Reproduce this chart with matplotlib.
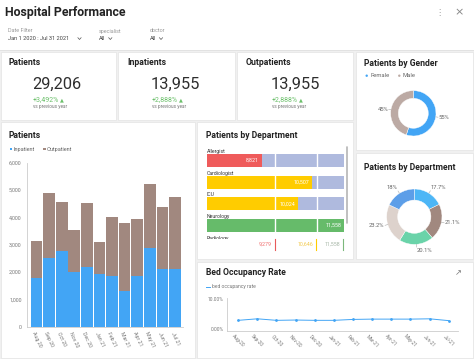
import matplotlib
matplotlib.use('Agg')
import matplotlib.pyplot as plt
from matplotlib.patches import Rectangle, Circle
import numpy as np

plt.rcParams['font.family'] = ['Roboto', 'DejaVu Sans']

# ---------------- data ----------------
kpi_titles = ['Patients', 'Inpatients', 'Outpatients']
kpi_values = [29206, 13955, 13955]
kpi_change = [3492, 2888, 2888]

months = ['Aug 20', 'Sep 20', 'Oct 20', 'Nov 20', 'Dec 20', 'Jan 21',
          'Feb 21', 'Mar 21', 'Apr 21', 'May 21', 'Jun 21', 'Jul 21']
inpatient = [1800, 2510, 2760, 2000, 2180, 1930, 1870, 1300, 1850, 2890, 2110, 2120]
outpatient = [1350, 2390, 1800, 1540, 2330, 1160, 2150, 2480, 2090, 2340, 2260, 2620]

dept_names = ['Allergist', 'Cardiologist', 'ICU', 'Neurology', 'Radiology']
dept_patients = [8821, 10507, 10024, 11558, 9700]
dept_thresholds = [9279, 10646, 11558]

gender_labels = ['Female', 'Male']
gender_share = [55, 45]

dept_share = [17.7, 21.1, 20.1, 23.2, 18.0]
dept_share_labels = ['17.7%', '21.1%', '20.1%', '23.2%', '18%']

bed_months = ['Aug-20', 'Sep-20', 'Oct-20', 'Nov-20', 'Dec-20', 'Jan-21',
              'Feb-21', 'Mar-21', 'Apr-21', 'May-21', 'Jun-21', 'Jul-21']
bed_rate = [2.9, 3.4, 2.9, 3.0, 2.9, 2.9, 3.2, 3.3, 3.3, 3.3, 3.4, 2.8]

# ---------------- styling ----------------
BLUE = '#42a5f5'
BROWN = '#a1887f'
W, H, DPI = 474, 359, 100

fig = plt.figure(figsize=(W / DPI, H / DPI), dpi=DPI)
fig.patch.set_facecolor('#f0f0f0')
bg = fig.add_axes([0, 0, 1, 1])
bg.set_xlim(0, W)
bg.set_ylim(H, 0)
bg.axis('off')


def px_axes(x0, y0, x1, y1):
    ax = fig.add_axes([x0 / W, 1 - y1 / H, (x1 - x0) / W, (y1 - y0) / H])
    ax.set_facecolor('none')
    return ax


def card(x0, y0, x1, y1):
    bg.add_patch(Rectangle((x0, y0), x1 - x0, y1 - y0, facecolor='white',
                           edgecolor='#e4e4e4', lw=0.5))


def T(x, y, s, size=4, color='#333333', weight='normal', ha='left', va='center', **kw):
    bg.text(x, y, s, fontsize=size, color=color, fontweight=weight, ha=ha, va=va, **kw)


def chevron(x, y):
    bg.plot([x - 1.6, x, x + 1.6], [y - 0.9, y + 0.9, y - 0.9], color='#555555', lw=0.5)


# header
bg.add_patch(Rectangle((0, 0), W, 49.5, facecolor='white', edgecolor='none'))
bg.plot([0, W], [49.5, 49.5], color='#e0e0e0', lw=0.6)
T(5, 12.5, 'Hospital Performance', size=8.8, color='#222222', weight='bold')
T(8.3, 31, 'Date Filter', size=3.9, color='#9a9a9a')
T(8.3, 38.8, 'Jan 1 2020 : Jul 31 2021', size=4.1, color='#444444')
chevron(79.5, 38.6)
T(99, 31, 'specialist', size=3.9, color='#9a9a9a')
T(99, 38.8, 'All', size=4.1, color='#444444')
chevron(110.3, 38.6)
T(149.7, 31, 'doctor', size=3.9, color='#9a9a9a')
T(149.7, 38.8, 'All', size=4.1, color='#444444')
chevron(161, 38.6)
T(439, 12, '\u22ee', size=6, color='#999999', ha='center', family='DejaVu Sans')
T(459, 12, '\u00d7', size=8, color='#888888', ha='center', family='DejaVu Sans')

# cards
card(1, 52, 116, 120)
card(118, 52, 235, 120)
card(237, 52, 353, 120)
card(356, 52, 473, 150)
card(1, 122, 195, 358)
card(197, 122, 353, 259)
card(356, 153, 473, 259)
card(197, 262, 473, 358)

# KPI cards
kpi_title_x = [8.3, 127.3, 245.7]
kpi_num_x = [33, 152, 271.7]
for tx, nx, title, val, ch in zip(kpi_title_x, kpi_num_x, kpi_titles, kpi_values, kpi_change):
    T(tx, 62.5, title, size=6.2, color='#222222', weight='bold')
    T(nx - 1, 84.5, f'{val:,}', size=11.8, color='#2e2e2e', weight='normal')
    T(nx, 99.5, f'+{ch:,}%', size=5.0, color='#6abf69')
    bg.annotate('\u25b2', xy=(nx, 99.5), xytext=(19.5, 0), textcoords='offset points',
                fontsize=3.6, color='#6abf69', ha='left', va='center', family='DejaVu Sans')
    T(nx, 106.8, 'vs previous year', size=3.4, color='#777777')

# ---------------- Patients stacked bar ----------------
T(8.3, 136, 'Patients', size=6.2, color='#222222', weight='bold')
bg.add_patch(Rectangle((10, 147.8), 2.4, 2.4, facecolor=BLUE, edgecolor='none'))
T(13.8, 149, 'Inpatient', size=4, color='#666666')
bg.add_patch(Rectangle((43.3, 147.8), 2.4, 2.4, facecolor=BROWN, edgecolor='none'))
T(46.8, 149, 'Outpatient', size=4, color='#666666')

ax = px_axes(26.7, 162.7, 183, 326.7)
x = np.arange(len(months))
ax.bar(x, inpatient, width=0.93, color=BLUE)
ax.bar(x, outpatient, bottom=inpatient, width=0.93, color=BROWN)
ax.set_ylim(0, 6000)
ax.set_xlim(-0.78, 11.64)
ax.set_yticks(range(0, 6001, 1000))
ax.set_yticklabels([f'{v:,}' for v in range(0, 6001, 1000)])
ax.set_xticks(x)
ax.set_xticklabels(months, rotation=-65, ha='center')
for s in ['top', 'right']:
    ax.spines[s].set_visible(False)
for s in ['left', 'bottom']:
    ax.spines[s].set_color('#cccccc')
    ax.spines[s].set_linewidth(0.6)
ax.tick_params(length=0, labelsize=3.8, colors='#777777')
ax.tick_params(axis='y', pad=3.6)
ax.tick_params(axis='x', pad=3)

# ---------------- Patients by Department (bullet) ----------------
T(206, 136, 'Patients by Department', size=6.2, color='#222222', weight='bold')
XMIN = 7000
RED, YEL, GRN, BAND = '#ef5b5b', '#ffcc00', '#66bb6a', '#afbade'
bax = px_axes(206.7, 147, 344, 238.5)
bax.set_xlim(XMIN, dept_thresholds[-1])
bax.set_ylim(238.5, 147)
bax.axis('off')
for i, (name, val) in enumerate(zip(dept_names, dept_patients)):
    yc = 160.5 + i * 21.7
    bax.barh(yc, dept_thresholds[-1] - XMIN, left=XMIN, height=13, color=BAND)
    col = RED if val < dept_thresholds[0] else (YEL if val < dept_thresholds[1] else GRN)
    bax.barh(yc, val - XMIN, left=XMIN, height=13, color=col)
    for t in dept_thresholds[:2]:
        bax.plot([t, t], [yc - 6.5, yc + 6.5], color='white', lw=1.0)
    bax.text(XMIN, yc - 7.6, name, fontsize=3.7, color='#333333', ha='left',
             va='baseline', clip_on=True)
    bax.annotate(f'{val:,}', xy=(val, yc), xytext=(-2, 0), textcoords='offset points',
                 fontsize=3.9, color='white', ha='right', va='center',
                 annotation_clip=True, clip_on=True)
bg.plot([347, 347], [147, 223], color='#b5b5b5', lw=1.2, solid_capstyle='round')

lax = px_axes(206.7, 238.5, 344, 258)
lax.set_xlim(XMIN, dept_thresholds[-1])
lax.set_ylim(258, 238.5)
lax.axis('off')
thr_text = ['#f07070', '#f2c94c', '#a5b5a5']
thr_mark = ['#e85a5a', '#ffcc00', '#7cb87c']
for t, tc, mc in zip(dept_thresholds, thr_text, thr_mark):
    lax.plot([t - 20, t - 20], [239, 250], color=mc, lw=0.8, clip_on=False)
    lax.annotate(f'{t:,}', xy=(t, 244.5), xytext=(-2.4, 0), textcoords='offset points',
                 fontsize=3.8, color=tc, ha='right', va='center')

# ---------------- donuts ----------------
def donut(cx, cy, R, vals, colors, width, labels):
    half = R * 1.7
    dax = px_axes(cx - half, cy - half, cx + half, cy + half)
    dax.pie(vals, colors=colors, startangle=90, counterclock=False, radius=1,
            wedgeprops=dict(width=width, edgecolor='white', linewidth=0.3))
    dax.set_xlim(-half / R, half / R)
    dax.set_ylim(-half / R, half / R)
    dax.set_aspect('equal')
    dax.axis('off')
    total = sum(vals)
    cum = 0
    for v, lab in zip(vals, labels):
        mid = np.deg2rad(90 - (cum + v / 2) / total * 360)
        cum += v
        c, s = np.cos(mid), np.sin(mid)
        dax.plot([c * 1.0, c * 1.1], [s * 1.0, s * 1.1], color='#aaaaaa', lw=0.4)
        ha = 'left' if c > 0 else 'right'
        va = 'bottom' if s > 0.5 else ('top' if s < -0.5 else 'center')
        dax.text(c * 1.12, s * 1.12, lab, fontsize=4.2, color='#666666', ha=ha, va=va)


T(364.3, 63, 'Patients by Gender', size=6.2, color='#222222', weight='bold')
gcolors = [BLUE, '#bcaaa4']
bg.add_patch(Circle((366.7, 75.7), 1.2, facecolor=gcolors[0], edgecolor='none'))
T(370.2, 75.7, gender_labels[0], size=4.2, color='#666666')
bg.add_patch(Circle((399.3, 75.7), 1.2, facecolor=gcolors[1], edgecolor='none'))
T(402.7, 75.7, gender_labels[1], size=4.2, color='#666666')
donut(413.3, 113.3, 22.7, gender_share, gcolors, 0.34, [f'{v}%' for v in gender_share])

T(364.3, 167.5, 'Patients by Department', size=6.2, color='#222222', weight='bold')
dcolors = ['#4db6f6', '#a1887f', '#6ad3a9', '#ddd2cc', '#5c9ee8']
donut(414.3, 216.7, 27.7, dept_share, dcolors, 0.40, dept_share_labels)

# ---------------- Bed occupancy ----------------
T(206, 272.5, 'Bed Occupancy Rate', size=6.2, color='#222222', weight='bold')
T(458.5, 272.5, '\u2197', size=6, color='#777777', ha='center', family='DejaVu Sans')
bg.plot([206.5, 210.3], [286.8, 286.8], color=BLUE, lw=0.7)
T(211.8, 286.8, 'bed occupancy rate', size=3.6, color='#777777')

oax = px_axes(226.7, 298.4, 458.3, 331)
xb = np.arange(len(bed_months))
oax.plot(xb, bed_rate, color=BLUE, lw=0.7, marker='o', ms=1.0)
oax.set_xlim(-0.6, 11.5)
oax.set_ylim(-0.6, 10.1)
oax.set_yticks([0, 10])
oax.set_yticklabels(['0.00%', '10.00%'])
oax.set_xticks(xb)
oax.set_xticklabels(bed_months, rotation=-45, ha='center')
for s in ['top', 'right']:
    oax.spines[s].set_visible(False)
for s in ['left', 'bottom']:
    oax.spines[s].set_color('#cccccc')
    oax.spines[s].set_linewidth(0.6)
oax.tick_params(length=0, labelsize=3.5, colors='#777777', pad=2)

fig.savefig('out.png', dpi=DPI, facecolor=fig.get_facecolor())
